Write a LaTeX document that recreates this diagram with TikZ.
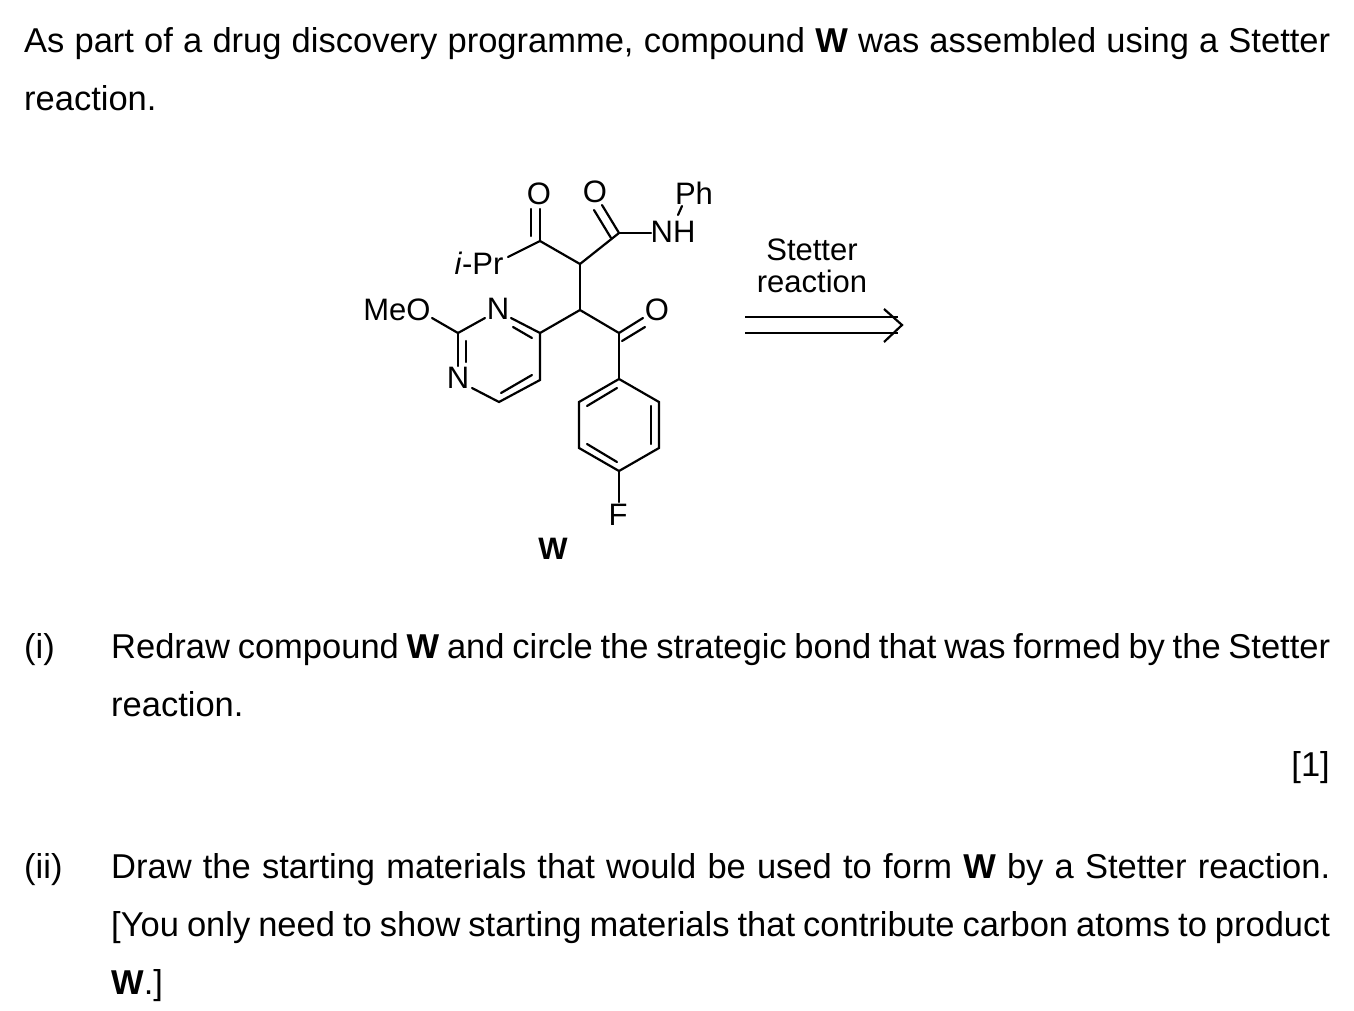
\documentclass[tikz,border=0pt]{standalone}
\usepackage{fontspec}
\setmainfont{Liberation Sans}
\begin{document}
\begin{tikzpicture}[x=1pt,y=-1pt,
  txt/.style={anchor=base west,inner sep=0pt,font=\fontsize{34.5}{40}\selectfont},
  atom/.style={inner sep=0pt,font=\fontsize{31}{36}\selectfont},
  bd/.style={line width=2.2pt,line cap=round},
  lab/.style={inner sep=0pt,font=\fontsize{31}{36}\selectfont}]
\useasboundingbox (0,0) rectangle (1354,1010);
% text
\node[txt] (l1) at (24,52) {\makebox[1306pt][s]{As part of a drug discovery programme, compound \textbf{W} was assembled using a Stetter}};
\node[txt] (l2) at (24,110) {reaction.};
\node[txt] (i) at (24,658) {(i)};
\node[txt] (i1) at (111,658) {\makebox[1219pt][s]{Redraw compound \textbf{W} and circle the strategic bond that was formed by the Stetter}};
\node[txt] (i2) at (111,716) {reaction.};
\node[txt,anchor=base east] (m) at (1330,776) {[1]};
\node[txt] (ii) at (24,878) {(ii)};
\node[txt] (ii1) at (111,878) {\makebox[1219pt][s]{Draw the starting materials that would be used to form \textbf{W} by a Stetter reaction.}};
\node[txt] (ii2) at (111,936) {\makebox[1219pt][s]{[You only need to show starting materials that contribute carbon atoms to product}};
\node[txt] (ii3) at (111,994) {\textbf{W}.]};
% atom labels
\node[atom] (O1) at (539,194) {O};
\node[atom] (O2) at (595,192) {O};
\node[atom] (Ph) at (694,193) {Ph};
\node[atom] (NH) at (673,232) {NH};
\node[atom] (iPr) at (479,263) {\textit{i}-Pr};
\node[atom] (MeO) at (397,310) {MeO};
\node[atom] (N1) at (498,309) {N};
\node[atom] (O3) at (657,310) {O};
\node[atom] (N3) at (458,378) {N};
\node[atom] (F) at (618,515) {F};
\node[atom] (W) at (553,549) {\textbf{W}};
\node[lab] (s1) at (812,250) {Stetter};
\node[lab] (s2) at (812,281) {reaction};
% skeleton coordinates
\coordinate (C1) at (540,241);
\coordinate (CA) at (580,264);
\coordinate (CB) at (580,310);
\coordinate (Cam) at (619,233);
\coordinate (C4) at (540,333);
\coordinate (C5) at (540,380);
\coordinate (C6) at (499,402);
\coordinate (C2) at (458,333);
\coordinate (Ck) at (619,333);
\coordinate (Ci) at (619,379);
\coordinate (R2) at (579,402);
\coordinate (R3) at (579,448);
\coordinate (R4) at (619,471);
\coordinate (R5) at (659,448);
\coordinate (R6) at (659,402);
\coordinate (iPrE) at (508,257);
\coordinate (MeOE) at (432,318);
\coordinate (N1a) at (485,318);
\coordinate (N1b) at (511,318);
\coordinate (N3a) at (458,366);
\coordinate (N3b) at (472,388);
\coordinate (NHw) at (651,233);
\coordinate (Fn) at (619,502);
% bonds
\draw[bd] (CA)--(CB);
\draw[bd] (C1)--(CA)--(Cam);
\draw[bd] (iPrE) -- (C1);
\draw[bd] (C1)--(540,209);
\draw[bd] (531,236)--(531,209);
\draw[bd] (Cam)--(NHw);
\draw[bd] (Cam)--(602,205);
\draw[bd] (611,238)--(594,210);
\draw[bd] (678,215)--(682,206);
\draw[bd] (CB)--(C4);
\draw[bd] (CB)--(Ck);
\draw[bd] (Ck)--(643,318);
\draw[bd] (622,341)--(645,327);
\draw[bd] (Ck)--(Ci);
% pyrimidine
\draw[bd] (N1b)--(C4);
\draw[bd] (513,327)--(532,338);
\draw[bd] (C4)--(C5)--(C6)--(N3b);
\draw[bd] (532,375)--(501,393);
\draw[bd] (N3a)--(C2);
\draw[bd] (466,362)--(466,341);
\draw[bd] (C2)--(N1a);
\draw[bd] (C2)--(MeOE);
% benzene
\draw[bd] (Ci)--(R2)--(R3)--(R4)--(R5)--(R6)--cycle;
\draw[bd] (617,388)--(587,406);
\draw[bd] (651,406)--(651,444);
\draw[bd] (587,444)--(617,462);
\draw[bd] (R4)--(Fn);
% arrow
\draw[line width=2.2pt] (745,317)--(898,317);
\draw[line width=2.2pt] (745,333)--(898,333);
\draw[line width=2.2pt,line join=miter] (884,309)--(902,325)--(884,342);
\end{tikzpicture}
\end{document}
